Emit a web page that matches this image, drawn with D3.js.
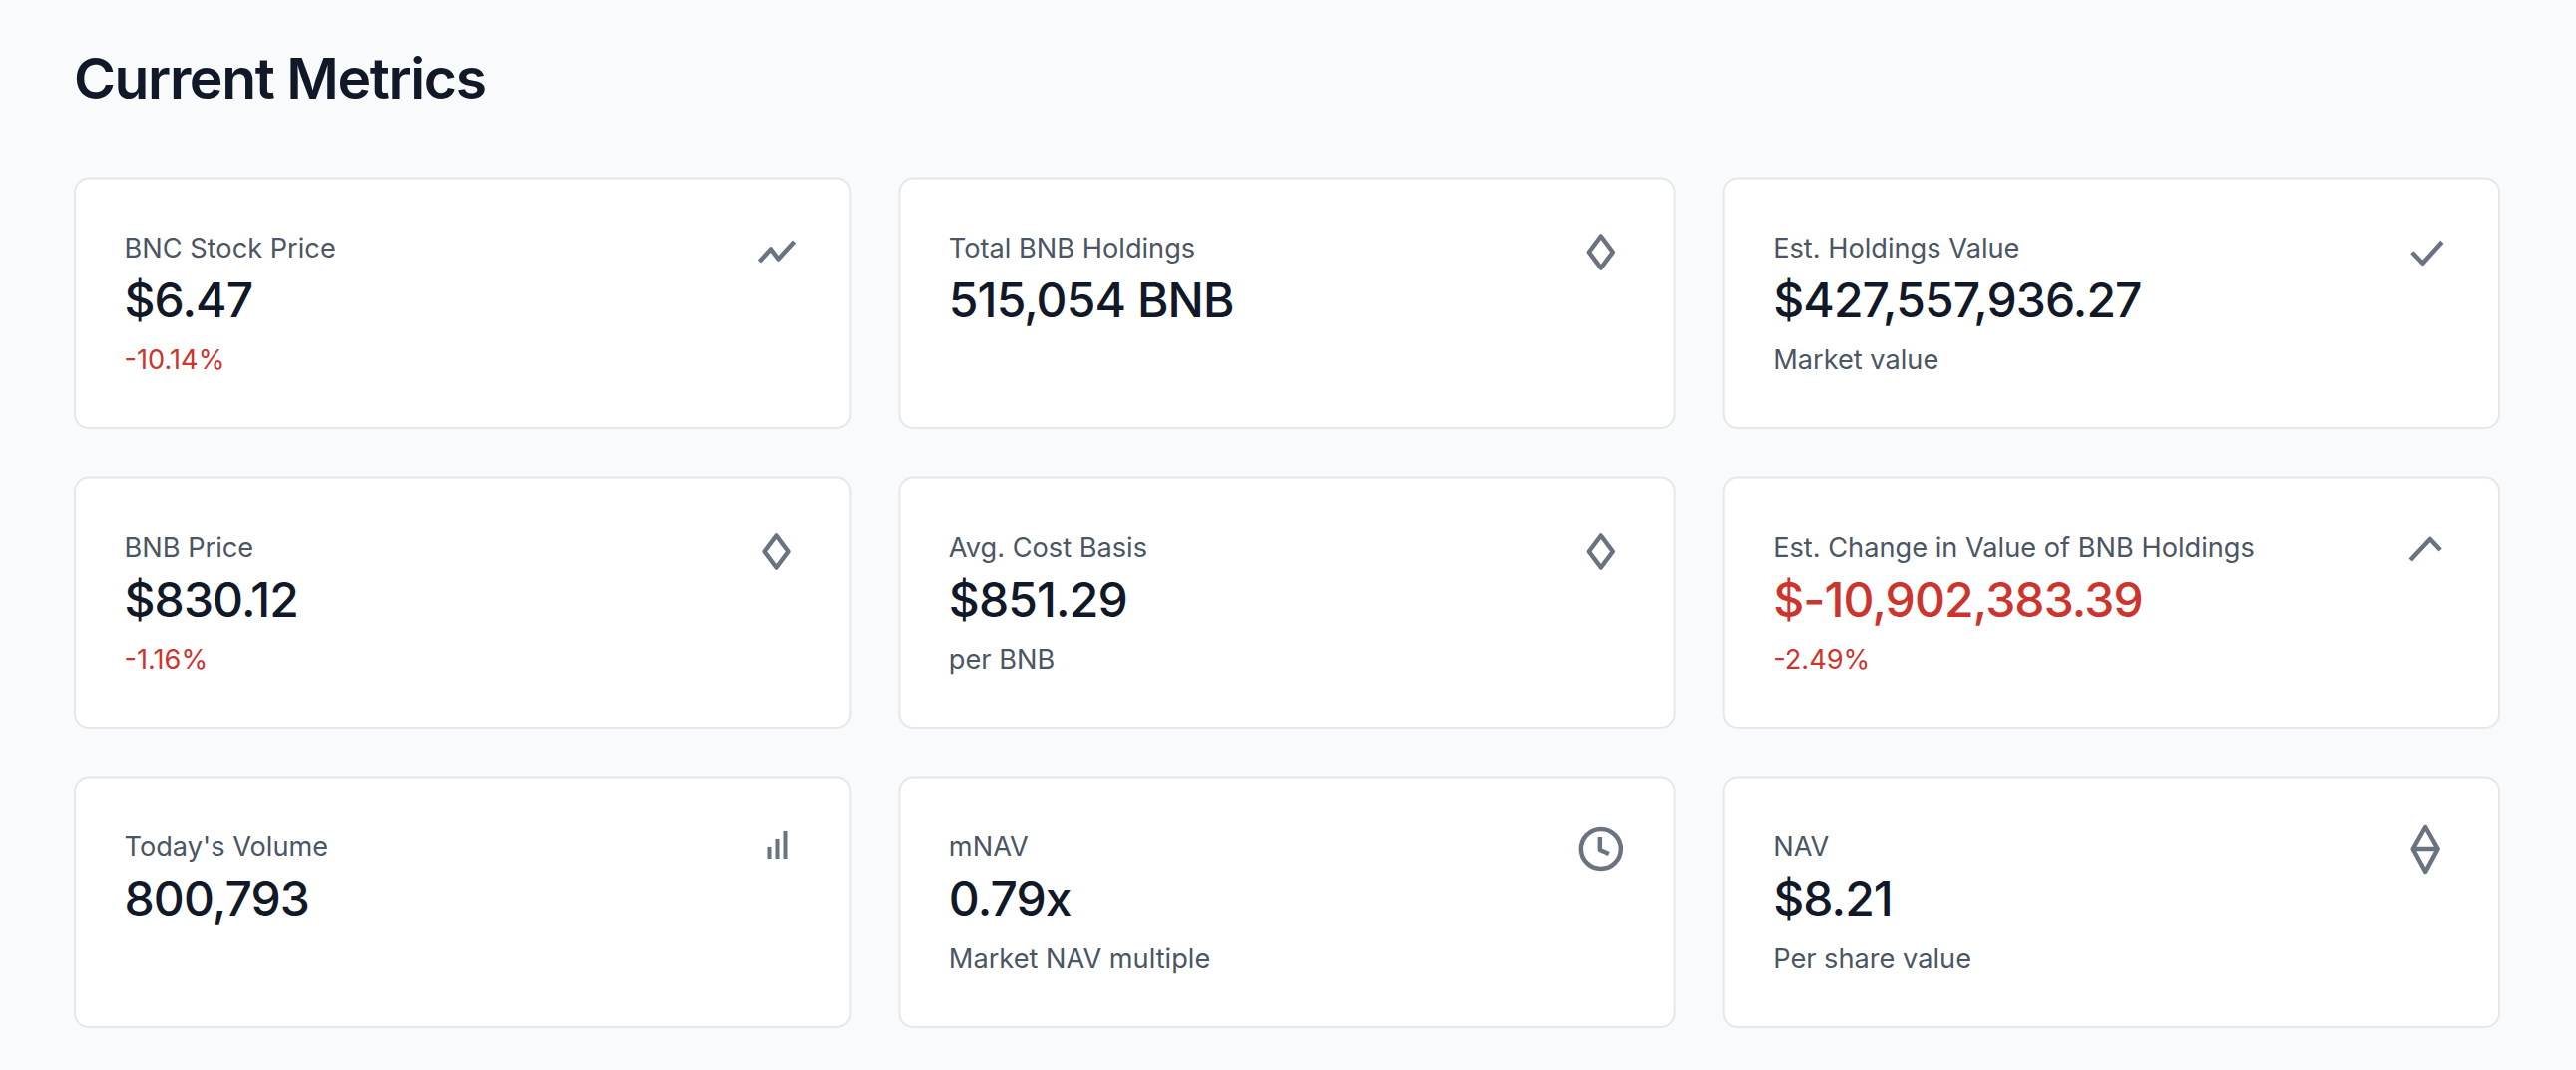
<!DOCTYPE html>
<html lang="en">
<head>
<meta charset="UTF-8">
<title>Current Metrics</title>
<script src="https://d3js.org/d3.v7.min.js"></script>
<style>
    html, body { margin: 0; background: #f9fafb; overflow: hidden; }
    svg { display: block; font-family: Inter, sans-serif; }
    .title { font-size: 57px; font-weight: 600; fill: #111827; letter-spacing: -1.4px; }
    .card { fill: #fff; stroke: #e5e7eb; stroke-width: 2; }
    .label { font-size: 27.2px; fill: #4b5563; }
    .value { font-size: 48px; font-weight: 550; fill: #111827; letter-spacing: -0.9px; }
    .note { font-size: 27.2px; fill: #4b5563; }
    .negative { fill: #cb352d; }
    .icon { fill: none; stroke: #6b7280; stroke-width: 4.5; stroke-linejoin: round; }
    .icon-solid { fill: #6b7280; stroke: none; }
</style>
</head>
<body>
<svg width="2582" height="1072"></svg>
<script>
    const labels = ["BNC Stock Price", "Total BNB Holdings", "Est. Holdings Value",
        "BNB Price", "Avg. Cost Basis", "Est. Change in Value of BNB Holdings",
        "Today's Volume", "mNAV", "NAV"];
    const values = ["$6.47", "515,054 BNB", "$427,557,936.27",
        "$830.12", "$851.29", "$-10,902,383.39",
        "800,793", "0.79x", "$8.21"];
    const notes = ["-10.14%", "", "Market value",
        "-1.16%", "per BNB", "-2.49%",
        "", "Market NAV multiple", "Per share value"];
    const icons = ["trend", "diamond", "check",
        "diamond", "diamond", "chevron",
        "bars", "clock", "nav"];

    const svg = d3.select("svg");

    const x = d3.scaleBand().domain(d3.range(3)).range([75, 2505]).paddingInner(0.0593);
    const y = d3.scaleBand().domain(d3.range(3)).range([178.5, 1029]).paddingInner(0.165);

    // icons are drawn around a common anchor in the card's top right
    const iconPaths = {
        trend: "M-17,11L-5.5,-1.5L2,8.5L18,-9",
        diamond: "M0,-14.5L12,1.5L0,17.5L-12,1.5Z",
        check: "M-13.3,1.8L-2.7,12.8L16.7,-8.8",
        chevron: "M-15,10L4.7,-11L15,0",
        clock: "M0,-20A20,20 0 1 1 0,20A20,20 0 1 1 0,-20M-1,-12V1L8,5",
        nav: "M0,-22L12.5,0L0,23L-12.5,0ZM-13,0H13"
    };
    const barTops = [-2, -10, -18];

    svg.append("text")
        .attr("class", "title")
        .attr("x", 74)
        .attr("y", 99)
        .text("Current Metrics");

    const cards = svg.selectAll(".metric")
        .data(d3.range(labels.length))
        .enter().append("g")
        .attr("class", "metric")
        .attr("transform", d => `translate(${x(d % 3)},${y(Math.floor(d / 3))})`);

    cards.append("rect")
        .attr("class", "card")
        .attr("width", x.bandwidth())
        .attr("height", y.bandwidth())
        .attr("rx", 14);

    cards.append("text")
        .attr("class", "label")
        .attr("x", 49.5)
        .attr("y", 79)
        .text(d => labels[d]);

    cards.append("text")
        .attr("class", d => values[d].startsWith("$-") ? "value negative" : "value")
        .attr("x", 49.5)
        .attr("y", 139.5)
        .text(d => values[d]);

    cards.append("text")
        .attr("class", d => notes[d].startsWith("-") ? "note negative" : "note")
        .attr("x", 49.5)
        .attr("y", 191)
        .text(d => notes[d]);

    const icon = cards.append("g")
        .attr("transform", "translate(703.5,72.5)");

    icon.filter(d => icons[d] !== "bars")
        .append("path")
        .attr("class", "icon")
        .attr("d", d => iconPaths[icons[d]]);

    icon.filter(d => icons[d] === "bars")
        .selectAll("rect")
        .data(barTops)
        .enter().append("rect")
        .attr("class", "icon-solid")
        .attr("x", (d, i) => -9 + i * 8)
        .attr("y", d => d)
        .attr("width", 4)
        .attr("height", d => 10 - d);
</script>
</body>
</html>
